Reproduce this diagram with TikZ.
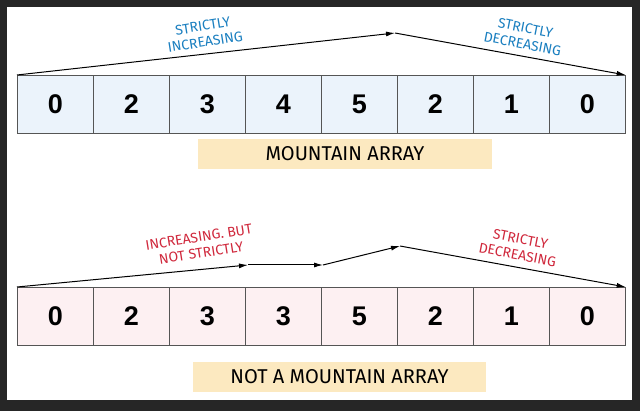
\documentclass[tikz,border=0pt]{standalone}
\usepackage{fontspec}
\setmainfont{Liberation Sans}
\newfontfamily\lblfont{Fira Sans}
\usetikzlibrary{arrows.meta}
\definecolor{frame}{HTML}{262626}
\definecolor{topfill}{HTML}{EBF3FB}
\definecolor{botfill}{HTML}{FDF0F2}
\definecolor{cellline}{HTML}{555555}
\definecolor{tagfill}{HTML}{FCE9C0}
\definecolor{bluetxt}{HTML}{1A7FC0}
\definecolor{redtxt}{HTML}{D0283C}
\tikzset{
  cellbox/.style={draw=cellline,line width=0.7pt,minimum width=76pt,minimum height=58pt,inner sep=0pt,font=\bfseries\fontsize{27}{27}\selectfont,anchor=north west},
  tagbox/.style={fill=tagfill,inner sep=0pt,minimum height=30pt,font=\lblfont\fontsize{20}{20}\selectfont},
  arr/.style={line width=1pt,-{Latex[length=9pt,width=5pt]}},
  note/.style={font=\lblfont\fontsize{14}{16}\selectfont,align=center,inner sep=0pt}
}
\begin{document}
\begin{tikzpicture}[x=1pt,y=-1pt]
\useasboundingbox (0,0) rectangle (640,411);
\fill[frame] (0,0) rectangle (640,411);
\fill[white] (7,7) rectangle (632,400);
% arrays
\foreach \v [count=\i from 0] in {0,2,3,4,5,2,1,0}{
  \node[cellbox,fill=topfill] (t\i) at (17+76*\i,75) {\v};
}
\foreach \v [count=\i from 0] in {0,2,3,3,5,2,1,0}{
  \node[cellbox,fill=botfill] (b\i) at (17+76*\i,287) {\v};
}
\node[tagbox,minimum width=294pt] (tag1) at (345,154) {MOUNTAIN ARRAY};
\node[tagbox,minimum width=293pt] (tag2) at (339.5,377) {NOT A MOUNTAIN ARRAY};
% top arrows
\coordinate (tp) at (395,33);
\draw[arr] (t0.north west) -- (tp);
\draw[arr] (tp) -- (t7.north east);
\node[note,text=bluetxt,rotate=9] (n1) at (204,34) {STRICTLY\\INCREASING};
\node[note,text=bluetxt,rotate=-11] (n2) at (524,36) {STRICTLY\\DECREASING};
% bottom arrows
\coordinate (p1) at (248,265);
\coordinate (p2) at (323,265);
\coordinate (p3) at (400,246);
\draw[arr] (b0.north west) -- (p1);
\draw[arr] (p1) -- (p2);
\draw[arr] (p2) -- (p3);
\draw[arr] (p3) -- (b7.north east);
\node[note,text=redtxt,rotate=9] (n3) at (200,245) {INCREASING. BUT\\NOT STRICTLY};
\node[note,text=redtxt,rotate=-11] (n4) at (519,247) {STRICTLY\\DECREASING};
\end{tikzpicture}
\end{document}
